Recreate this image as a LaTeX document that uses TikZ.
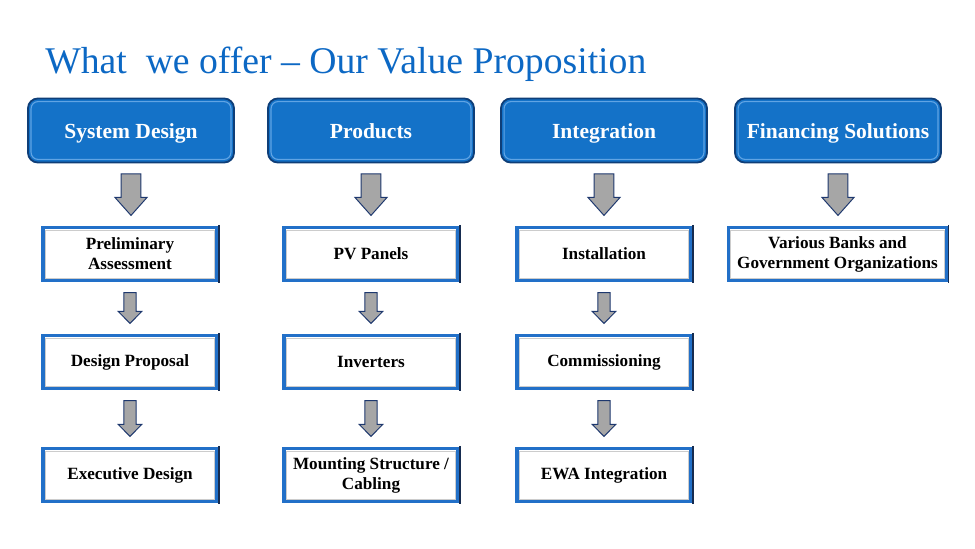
\documentclass[tikz,border=0pt]{standalone}
\usepackage{fontspec}
\setmainfont{Liberation Serif}
\usetikzlibrary{calc}

\definecolor{titleblue}{RGB}{12,104,196}
\definecolor{hdrblue}{RGB}{20,114,200}
\definecolor{hdrdark}{RGB}{14,62,120}
\definecolor{hdrlight}{RGB}{96,164,228}
\definecolor{wblue}{RGB}{34,112,200}
\definecolor{wdark}{RGB}{22,44,80}
\definecolor{arrgray}{RGB}{166,166,166}
\definecolor{arrblue}{RGB}{30,56,110}

\tikzset{
  hdrbox/.style={draw=hdrdark, line width=1.3pt, fill=hdrblue, rounded corners=7pt,
    minimum width=5.15cm, minimum height=1.6cm, text=white,
    text height=14pt, text depth=2pt,
    font=\bfseries\fontsize{15.3}{18}\selectfont},
  hdrinner/.style={draw=hdrlight, line width=0.8pt, rounded corners=5pt},
  wbox/.style={draw=wblue, line width=2.3pt, fill=white, align=center,
    minimum width=4.35cm, minimum height=1.32cm,
    font=\bfseries\fontsize{12.2}{14.2}\selectfont},
  winner/.style={draw=gray!40, line width=0.6pt},
  wshade/.style={draw=wdark, line width=1.2pt},
  blkarrow/.style={fill=arrgray, draw=arrblue, line width=0.7pt, line join=miter}
}

% block arrow from one node down to the next
\newcommand{\blkarrow}[5]{%
  \path[blkarrow] let \p1=(#1.south), \p2=(#2.north) in
    (\x1-#3,\y1-7.5pt) -- (\x1+#3,\y1-7.5pt) -- (\x1+#3,\y2+7.5pt+#5)
    -- (\x1+#4,\y2+7.5pt+#5) -- (\x1,\y2+7.5pt) -- (\x1-#4,\y2+7.5pt+#5)
    -- (\x1-#3,\y2+7.5pt+#5) -- cycle;}

\begin{document}
\begin{tikzpicture}[x=0.025cm, y=-0.025cm]
\useasboundingbox (0,0) rectangle (975,548);

% Title
\node[anchor=base west, inner sep=0pt, text=titleblue, font=\fontsize{26.8}{32}\selectfont]
  (title) at (45,73) {What\ \ we offer – Our Value Proposition};

% Headers
\node[hdrbox] (sd) at (131,130.5) {System Design};
\node[hdrbox] (pr) at (371,130.5) {Products};
\node[hdrbox] (ig) at (604,130.5) {Integration};
\node[hdrbox] (fs) at (838,130.5) {Financing Solutions};
\foreach \n in {sd,pr,ig,fs}
  \draw[hdrinner] ($(\n.north west)+(4,4)$) rectangle ($(\n.south east)+(-4,-4)$);

% System design column
\node[wbox] (prelim) at (130,254) {Preliminary\\Assessment};
\node[wbox] (propos) at (130,362) {Design Proposal};
\node[wbox] (execd) at (130,475) {Executive Design};

% Products column
\node[wbox] (pvp) at (371,254) {PV Panels};
\node[wbox] (inv) at (371,362) {Inverters};
\node[wbox] (mount) at (371,475) {Mounting Structure /\\Cabling};

% Integration column
\node[wbox] (inst) at (604,254) {Installation};
\node[wbox] (comm) at (604,362) {Commissioning};
\node[wbox] (ewa) at (604,475) {EWA Integration};

% Financing column
\node[wbox, minimum width=5.45cm] (banks) at (837.5,254) {Various Banks and\\Government Organizations};

% Box edges
\foreach \n in {prelim,propos,execd,pvp,inv,mount,inst,comm,ewa,banks} {
  \draw[winner] ($(\n.north west)+(4,4)$) rectangle ($(\n.south east)+(-4,-4)$);
  \draw[wshade] ($(\n.north east)+(0.5,-1)$) -- ($(\n.south east)+(0.5,1)$);
}

% Big arrows
\blkarrow{sd}{prelim}{7.1pt}{11.4pt}{12.8pt}
\blkarrow{pr}{pvp}{7.1pt}{11.4pt}{12.8pt}
\blkarrow{ig}{inst}{7.1pt}{11.4pt}{12.8pt}
\blkarrow{fs}{banks}{7.1pt}{11.4pt}{12.8pt}

% Small arrows
\blkarrow{prelim}{propos}{4.3pt}{8.3pt}{8.5pt}
\blkarrow{propos}{execd}{4.3pt}{8.3pt}{8.5pt}
\blkarrow{pvp}{inv}{4.3pt}{8.3pt}{8.5pt}
\blkarrow{inv}{mount}{4.3pt}{8.3pt}{8.5pt}
\blkarrow{inst}{comm}{4.3pt}{8.3pt}{8.5pt}
\blkarrow{comm}{ewa}{4.3pt}{8.3pt}{8.5pt}

\end{tikzpicture}
\end{document}
